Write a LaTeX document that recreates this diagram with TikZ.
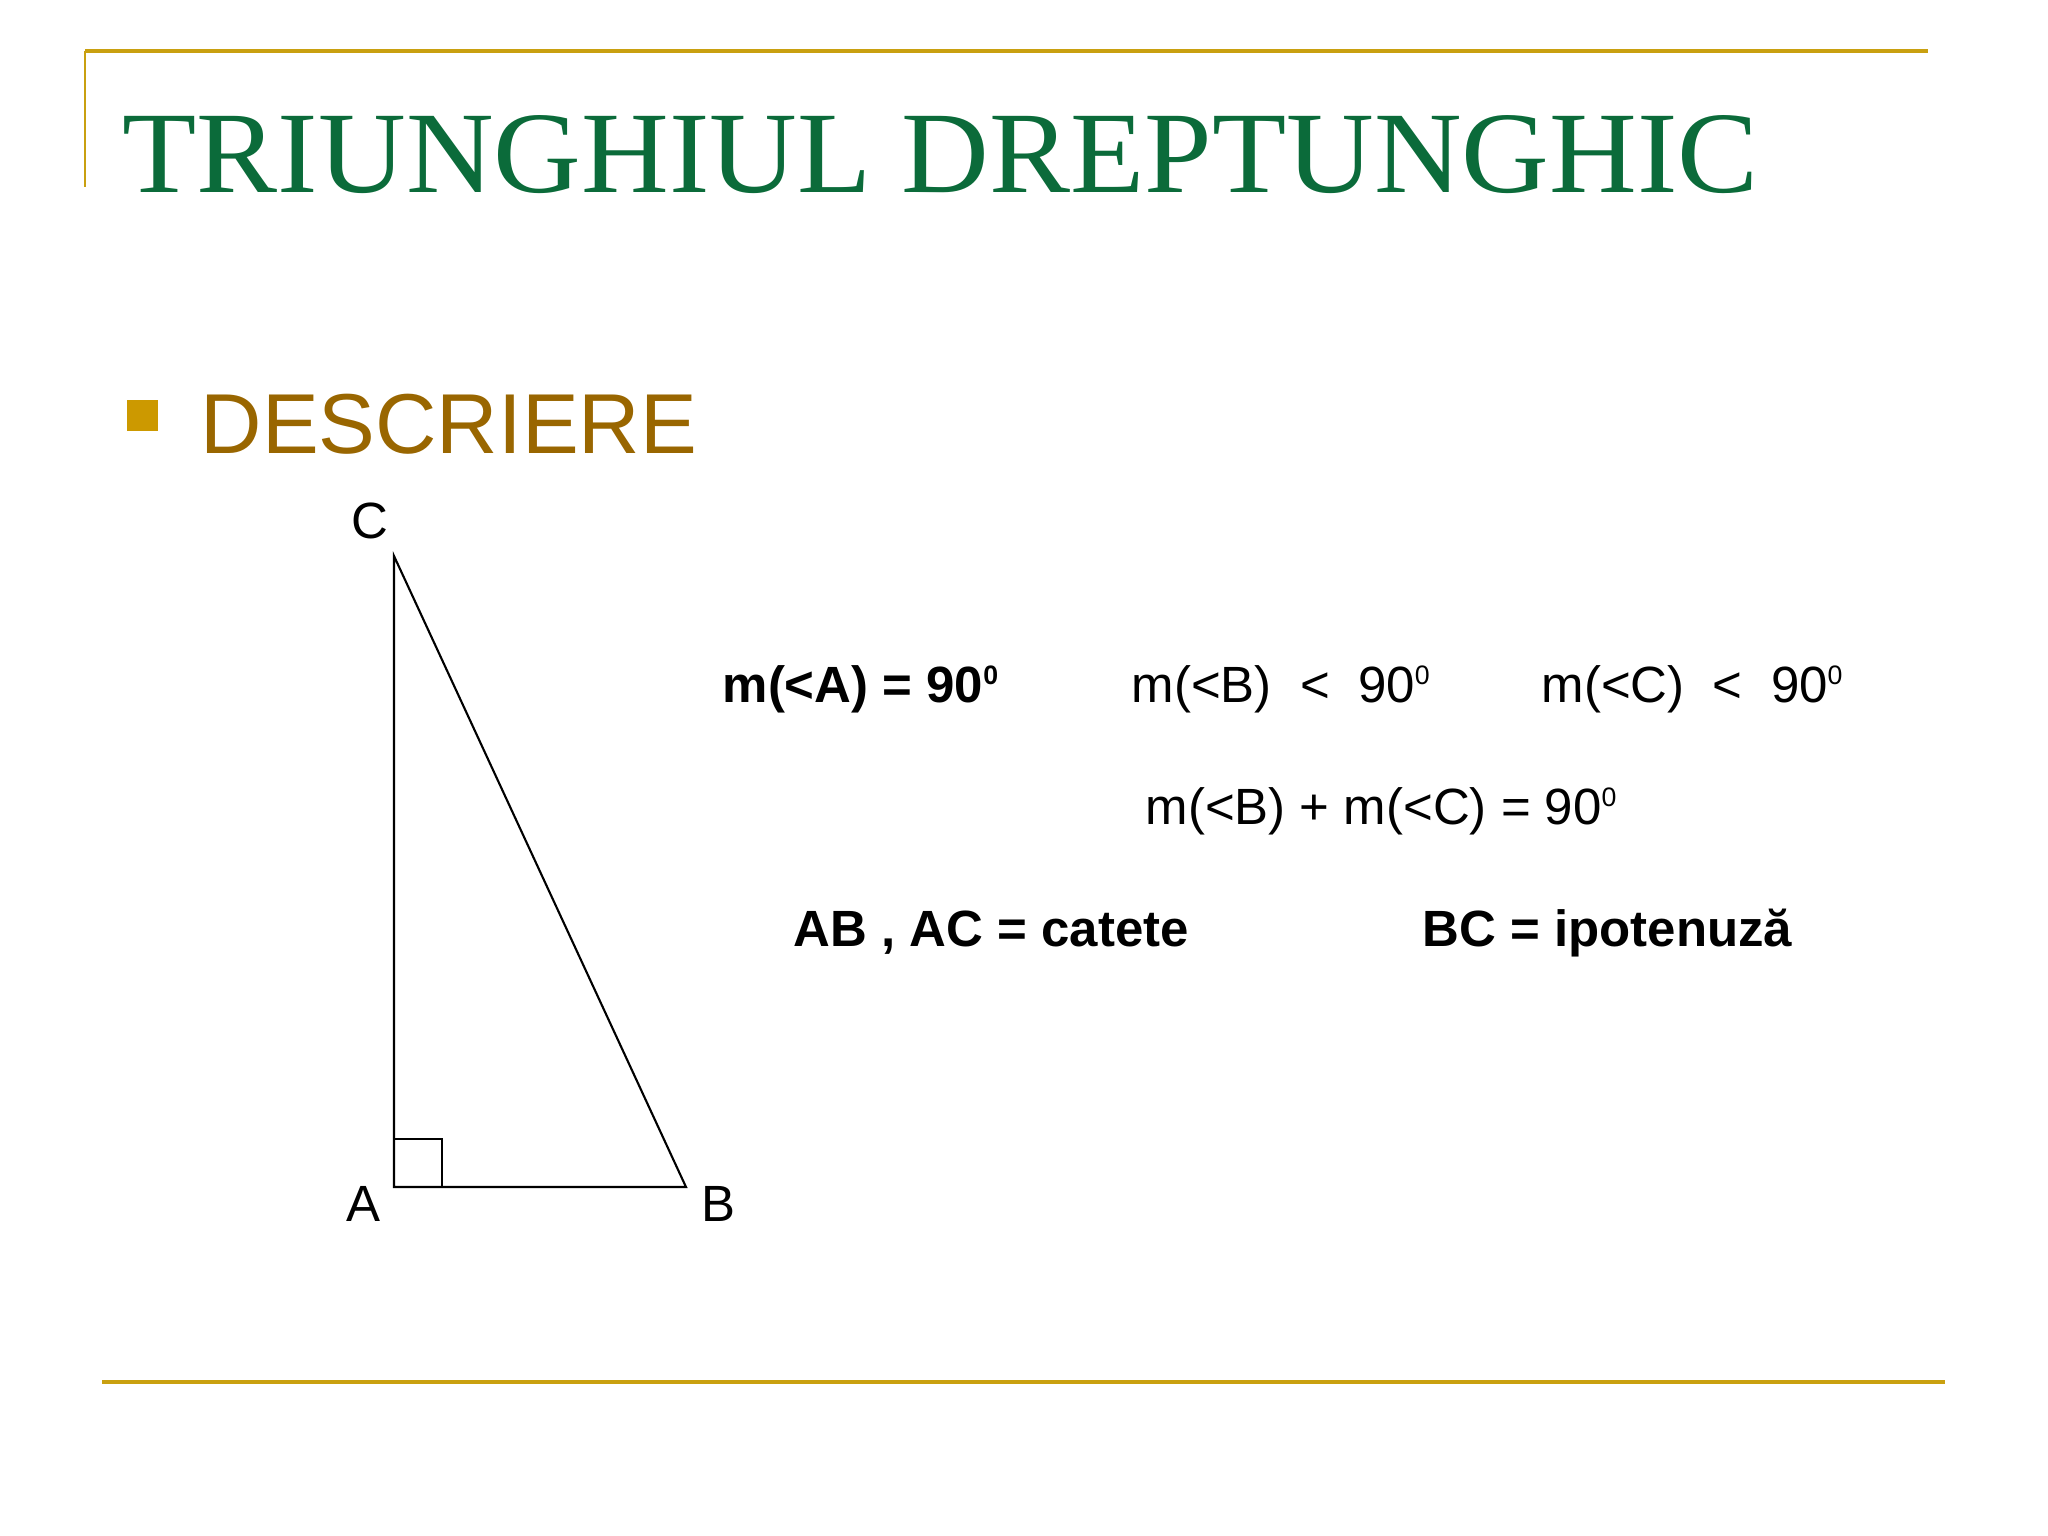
\documentclass[tikz,border=0pt]{standalone}
\usepackage{fontspec}
\setmainfont{Liberation Sans}
\newfontfamily\titlefont{Liberation Serif}
\usetikzlibrary{positioning}
\definecolor{slidegold}{HTML}{C9A010}
\definecolor{bulletgold}{HTML}{CC9900}
\definecolor{headbrown}{HTML}{996600}
\definecolor{titlegreen}{HTML}{0B6B3A}
\newcommand{\zsup}{\raisebox{5.2pt}{\fontsize{7.6}{8}\selectfont 0}}

\begin{document}
\begin{tikzpicture}[
    txt/.style={inner sep=0pt, anchor=base west, font=\fontsize{14.5}{18}\selectfont},
    lbl/.style={inner sep=0pt, anchor=base, font=\fontsize{14.5}{17}\selectfont}
]
                        \useasboundingbox (0, 0) rectangle (20.48, -15.36);
                        % frame of the slide
                        \coordinate (tl) at (0.85, -0.51);
                        \coordinate (tr) at (19.28, -0.51);
                        \coordinate (tb) at (0.85, -1.87);
                        \coordinate (bl) at (1.02, -13.82);
                        \coordinate (br) at (19.45, -13.82);
                        \draw[slidegold, line width=1.1pt] (tl) -- (tr);
                        \draw[slidegold, line width=0.7pt] (tl) -- (tb);
                        \draw[slidegold, line width=1.1pt] (bl) -- (br);

                        \node[txt, text=titlegreen] (title) at (1.22, -1.93) {\resizebox{163.6mm}{7.7mm}{\titlefont TRIUNGHIUL DREPTUNGHIC}};
                        \node[fill=bulletgold, minimum size=3.1mm, inner sep=0pt] (bul) at (1.43, -4.16) {};
                        \node[txt, text=headbrown, font=\fontsize{24.2}{28}\selectfont] (head) at (2.00, -4.54) {DESCRIERE};

                        % triangle
                        \coordinate (A) at (3.94, -11.87);
                        \coordinate (B) at (6.86, -11.87);
                        \coordinate (C) at (3.94, -5.56);
                        \coordinate (ra) at (4.42, -11.39);
                        \draw[line width=0.6pt, line join=miter] (A) -- (B) -- (C) -- cycle;
                        \draw[line width=0.6pt] (A |- ra) -- (ra) -- (ra |- A);
                        \node[lbl] (lc) at (3.70, -5.39) {C};
                        \node[lbl] (la) at (3.63, -12.21) {A};
                        \node[lbl] (lb) at (7.18, -12.21) {B};

                        \node[txt] (ma) at (7.22, -7.03) {\textbf{m(<A) = 90\zsup}};
                        \node[txt] (mb) at (11.31, -7.03) {m(<B) \ < \ 90\zsup};
                        \node[txt] (mc) at (15.41, -7.03) {m(<C) \ < \ 90\zsup};
                        \node[txt] (sum) at (11.45, -8.25) {m(<B) + m(<C) = 90\zsup};
                        \node[txt] (cat) at (7.93, -9.47) {\textbf{AB , AC = catete}};
                        \node[txt] (ipo) at (14.22, -9.47) {\textbf{BC = ipotenuză}};
                    \end{tikzpicture}
\end{document}
